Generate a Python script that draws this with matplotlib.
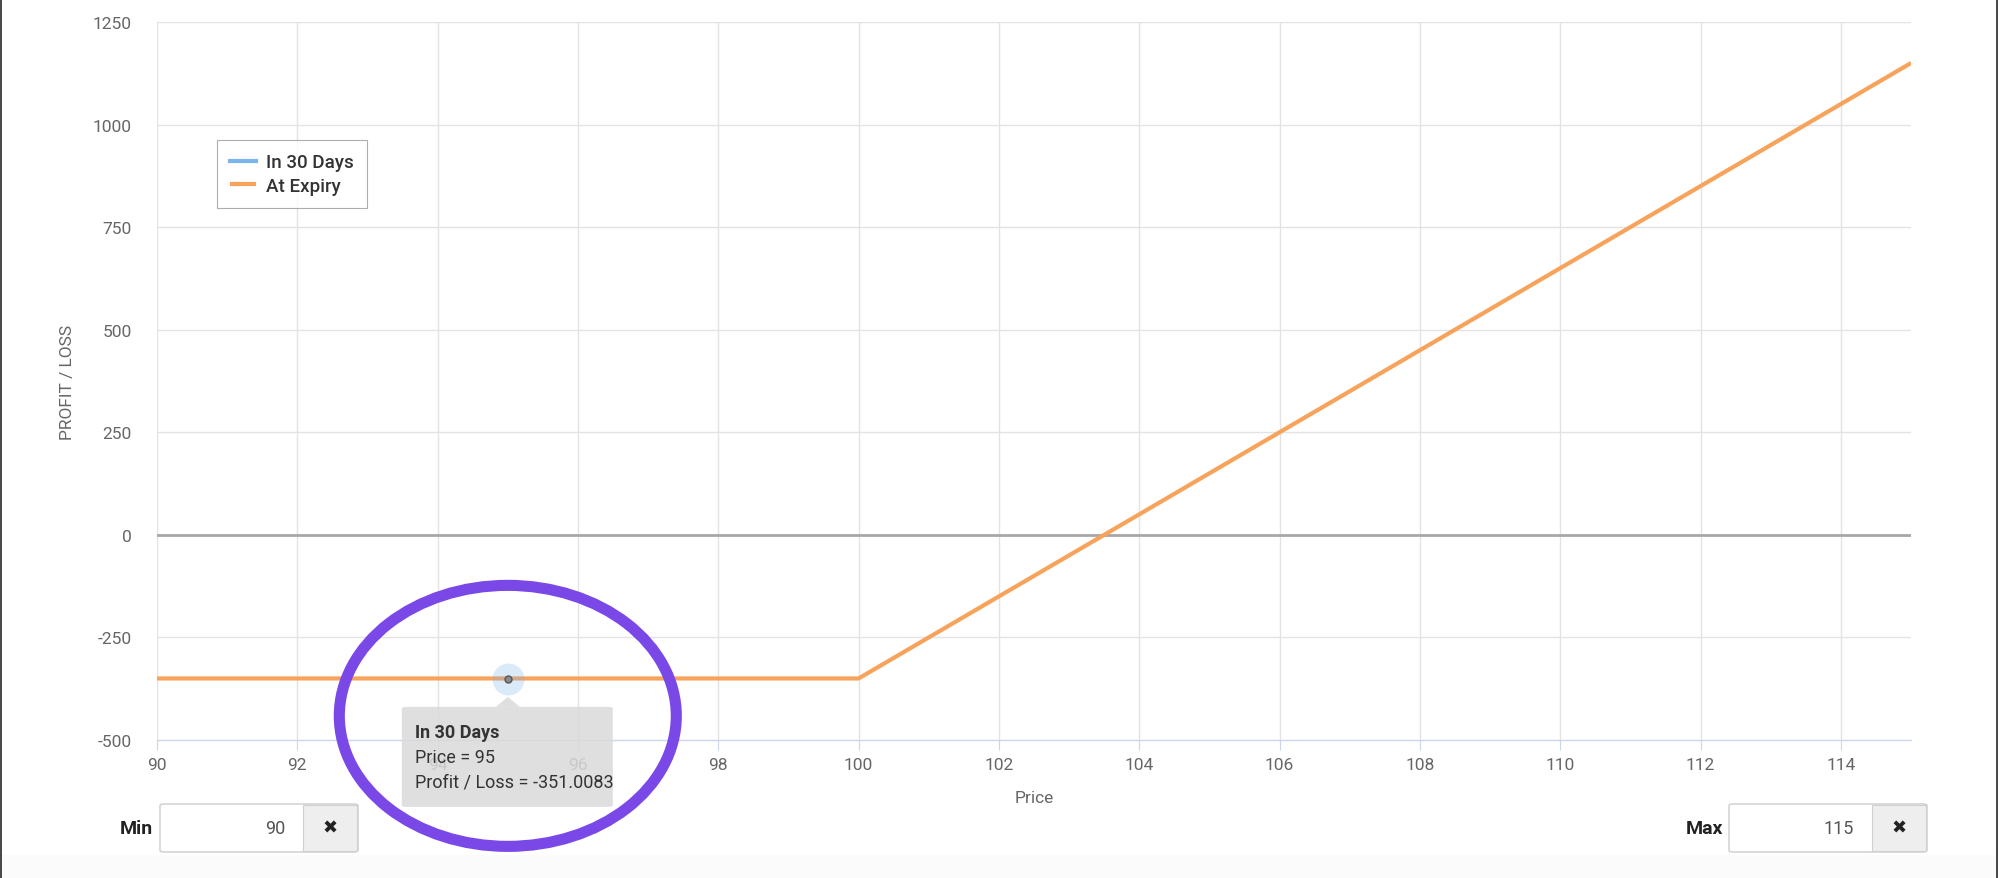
import matplotlib
matplotlib.use("Agg")
import numpy as np
from matplotlib import pyplot as plt
from matplotlib import patches

# data
expiry_price = [90, 100, 115]
expiry_pl = [-350, -350, 1150]
in30_price = [95]
in30_pl = [-351.0083]
xticks = list(range(90, 115, 2))
yticks = list(range(-500, 1251, 250))
price_min, price_max = 90, 115

plt.rcParams['axes.unicode_minus'] = False

W, H = 1999, 879
NUM = ['Roboto', 'DejaVu Sans']
TXT = ['Roboto', 'DejaVu Sans']

fig = plt.figure(figsize=(W / 100, H / 100), dpi=100)
fig.patch.set_facecolor('white')

def fx(x):
    return x / W

def fy(y):
    return 1 - y / H

# plot area in pixels (left, top, right, bottom)
L, T, R, B = 157, 23, 1911, 741
ax = fig.add_axes([fx(L), fy(B), (R - L) / W, (B - T) / H])
ax.set_xlim(price_min, price_max)
ax.set_ylim(-500, 1250)

for t in xticks:
    ax.axvline(t, color='#e3e3e3', lw=1, zorder=0)
for t in yticks[1:]:
    ax.axhline(t, color='#e3e3e3', lw=1, zorder=0)
ax.axhline(0, color='#a8a8a8', lw=2, zorder=1)

for s in ['top', 'right', 'left']:
    ax.spines[s].set_visible(False)
ax.spines['bottom'].set_color('#ccd6eb')
ax.spines['bottom'].set_linewidth(1)

ax.set_xticks(xticks)
ax.set_yticks(yticks)
ax.tick_params(axis='x', length=7, color='#ccd6eb', width=0.8, pad=5,
               labelcolor='#666666', labelsize=12.5)
ax.tick_params(axis='y', length=0, pad=18, labelcolor='#666666', labelsize=12.5)
for lab in ax.get_xticklabels() + ax.get_yticklabels():
    lab.set_family(NUM)

ax.set_xlabel('Price', family=TXT, fontsize=12.5, color='#666666', labelpad=13)
ax.set_ylabel('PROFIT / LOSS', family=TXT, fontsize=12.5, color='#666666', labelpad=13)

ax.plot(in30_price, in30_pl, color='#7cb5ec', lw=3, label='In 30 Days', zorder=2)
ax.plot(expiry_price, expiry_pl, color='#f7a35c', lw=3, label='At Expiry', zorder=3,
        solid_capstyle='butt')

# hover marker
ax.plot(in30_price, in30_pl, 'o', ms=23, color='#7cb5ec', alpha=0.28, mec='none', zorder=4)
ax.plot(in30_price, in30_pl, 'o', ms=5, mfc='#8a8a8a', mec='#555555', mew=1, zorder=5)

leg = ax.legend(loc='upper left', bbox_to_anchor=(fx(217), fy(141)),
                bbox_transform=fig.transFigure, borderaxespad=0,
                prop={'family': TXT, 'size': 13.5, 'weight': 'medium'},
                handlelength=1.4, handletextpad=0.5, labelspacing=0.3,
                borderpad=0.7, fancybox=False, frameon=True)
leg.get_frame().set_edgecolor('#999999')
leg.get_frame().set_linewidth(0.8)
for txt in leg.get_texts():
    txt.set_color('#333333')

# tooltip anchored to the hovered point
dx, dy = ax.transData.transform((in30_price[0], in30_pl[0]))
px, py = dx, H - dy
tip = patches.Polygon([(fx(px), fy(py + 18)), (fx(px - 12), fy(py + 28)),
                       (fx(px + 12), fy(py + 28))], closed=True,
                      transform=fig.transFigure, facecolor='#dadada', alpha=0.85,
                      edgecolor='none', zorder=6)
fig.patches.append(tip)
box = patches.FancyBboxPatch((fx(px - 106), fy(py + 128)), 211 / W, 100 / H,
                             boxstyle='round,pad=0,rounding_size=0.002',
                             transform=fig.transFigure, facecolor='#dadada',
                             alpha=0.85, edgecolor='none', zorder=6)
fig.patches.append(box)
fig.text(fx(px - 93), fy(py + 53), 'In 30 Days', family=TXT, fontsize=13,
         weight='bold', color='#333333', va='center', zorder=7)
fig.text(fx(px - 93), fy(py + 78), 'Price = %g' % in30_price[0], family=TXT,
         fontsize=13, color='#333333', va='center', zorder=7)
fig.text(fx(px - 93), fy(py + 103), 'Profit / Loss = %.4f' % in30_pl[0], family=TXT,
         fontsize=13, color='#333333', va='center', zorder=7)

# purple highlight ring
ring = patches.Ellipse((fx(px), fy(py + 37)), 337 / W, 261 / H, transform=fig.transFigure,
                       fill=False, edgecolor='#7b48e8', lw=8, zorder=8)
fig.patches.append(ring)

# Min / Max inputs under the chart
def input_box(label, value, lx, bx0, bx1, bx2):
    y0, y1 = 805, 853
    fig.text(fx(lx), fy((y0 + y1) / 2), label, family=TXT, fontsize=14, weight='bold',
             color='#222222', ha='right', va='center')
    frame = patches.FancyBboxPatch((fx(bx0), fy(y1)), (bx2 - bx0) / W, (y1 - y0) / H,
                                   boxstyle='round,pad=0,rounding_size=0.002',
                                   transform=fig.transFigure, facecolor='white',
                                   edgecolor='#cccccc', lw=1)
    fig.patches.append(frame)
    btn = patches.Rectangle((fx(bx1), fy(y1 - 1)), (bx2 - bx1 - 1) / W, (y1 - y0 - 2) / H,
                            transform=fig.transFigure, facecolor='#eeeeee',
                            edgecolor='#d0d0d0', lw=0.8)
    fig.patches.append(btn)
    fig.text(fx(bx1 - 18), fy((y0 + y1) / 2), str(value), family=NUM, fontsize=13,
             color='#555555', ha='right', va='center')
    fig.text(fx((bx1 + bx2) / 2), fy((y0 + y1) / 2), '\u2716', family=['DejaVu Sans'],
             fontsize=13, color='#222222', ha='center', va='center')

input_box('Min', price_min, 153, 160, 303, 358)
input_box('Max', price_max, 1723, 1729, 1872, 1927)

# page chrome
fig.patches.append(patches.Rectangle((0, 0), 1, fy(856), transform=fig.transFigure,
                                     facecolor='#fbfbfb', edgecolor='none', zorder=-1))
fig.patches.append(patches.Rectangle((0, 0), fx(2), 1, transform=fig.transFigure,
                                     facecolor='#4a4a4a', edgecolor='none'))
fig.patches.append(patches.Rectangle((fx(1996), 0), fx(3), 1, transform=fig.transFigure,
                                     facecolor='#4a4a4a', edgecolor='none'))
fig.patches.append(patches.Rectangle((0, fy(1)), 1, 1 / H, transform=fig.transFigure,
                                     facecolor='#e6e6e6', edgecolor='none'))

fig.savefig('out.png', dpi=100)
